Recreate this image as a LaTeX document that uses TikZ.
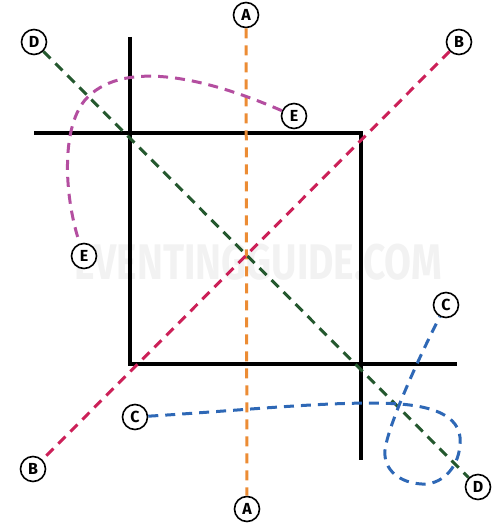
\documentclass[tikz,border=0pt]{standalone}
\usepackage{fontspec}
\setsansfont{Fira Sans}
\definecolor{lineA}{RGB}{236,140,52}
\definecolor{lineB}{RGB}{204,32,88}
\definecolor{lineC}{RGB}{46,104,182}
\definecolor{lineD}{RGB}{36,88,46}
\definecolor{lineE}{RGB}{180,78,160}
\tikzset{
  tag/.style={circle, draw=black, line width=1.6pt, fill=white, inner sep=0pt,
    minimum size=25pt, font=\sffamily\bfseries\fontsize{16}{16}\selectfont},
  rail/.style={line width=4pt, black},
  track/.style={line width=3pt, dash pattern=on 10pt off 7pt},
}
\newcommand{\tagat}[3]{\node[tag] (#1) at (#2) {#3};}

\begin{document}
\begin{tikzpicture}[x=1pt, y=-1pt]
    \useasboundingbox (0,0) rectangle (500,524);
    % watermark
    \node[text=black!5, xscale=0.78, font=\sffamily\bfseries\fontsize{50}{50}\selectfont] (mark) at (258,262) {EVENTINGGUIDE.COM};
    % fence lines
    \draw[rail] (130,37) -- (130,365);
    \draw[rail] (34,133) -- (363,133);
    \draw[rail] (361,131) -- (361,460);
    \draw[rail] (128,364) -- (457,364);
    % labels
    \tagat{A1}{246,15}{A}
    \tagat{A2}{247,509}{A}
    \tagat{B1}{459,42}{B}
    \tagat{B2}{33,469}{B}
    \tagat{C1}{446,305}{C}
    \tagat{C2}{135,417}{C}
    \tagat{D1}{34,42}{D}
    \tagat{D2}{478,487}{D}
    \tagat{E1}{294,116}{E}
    \tagat{E2}{84,256}{E}
    % lines
    \draw[track, lineA] (A1) -- (A2);
    \draw[track, lineB] (B1) -- (B2);
    \draw[track, lineD] (D1) -- (D2);
    \draw[track, lineE] (E1) .. controls (200,75) and (120,60) .. (85,100)
        .. controls (60,130) and (65,200) .. (E2);
    \draw[track, lineC] (C2) .. controls (250,410) and (340,400) .. (400,404)
        .. controls (450,408) and (462,425) .. (460,445)
        .. controls (458,470) and (440,485) .. (422,484)
        .. controls (400,483) and (383,470) .. (385,450)
        .. controls (388,425) and (420,355) .. (C1);
\end{tikzpicture}
\end{document}
